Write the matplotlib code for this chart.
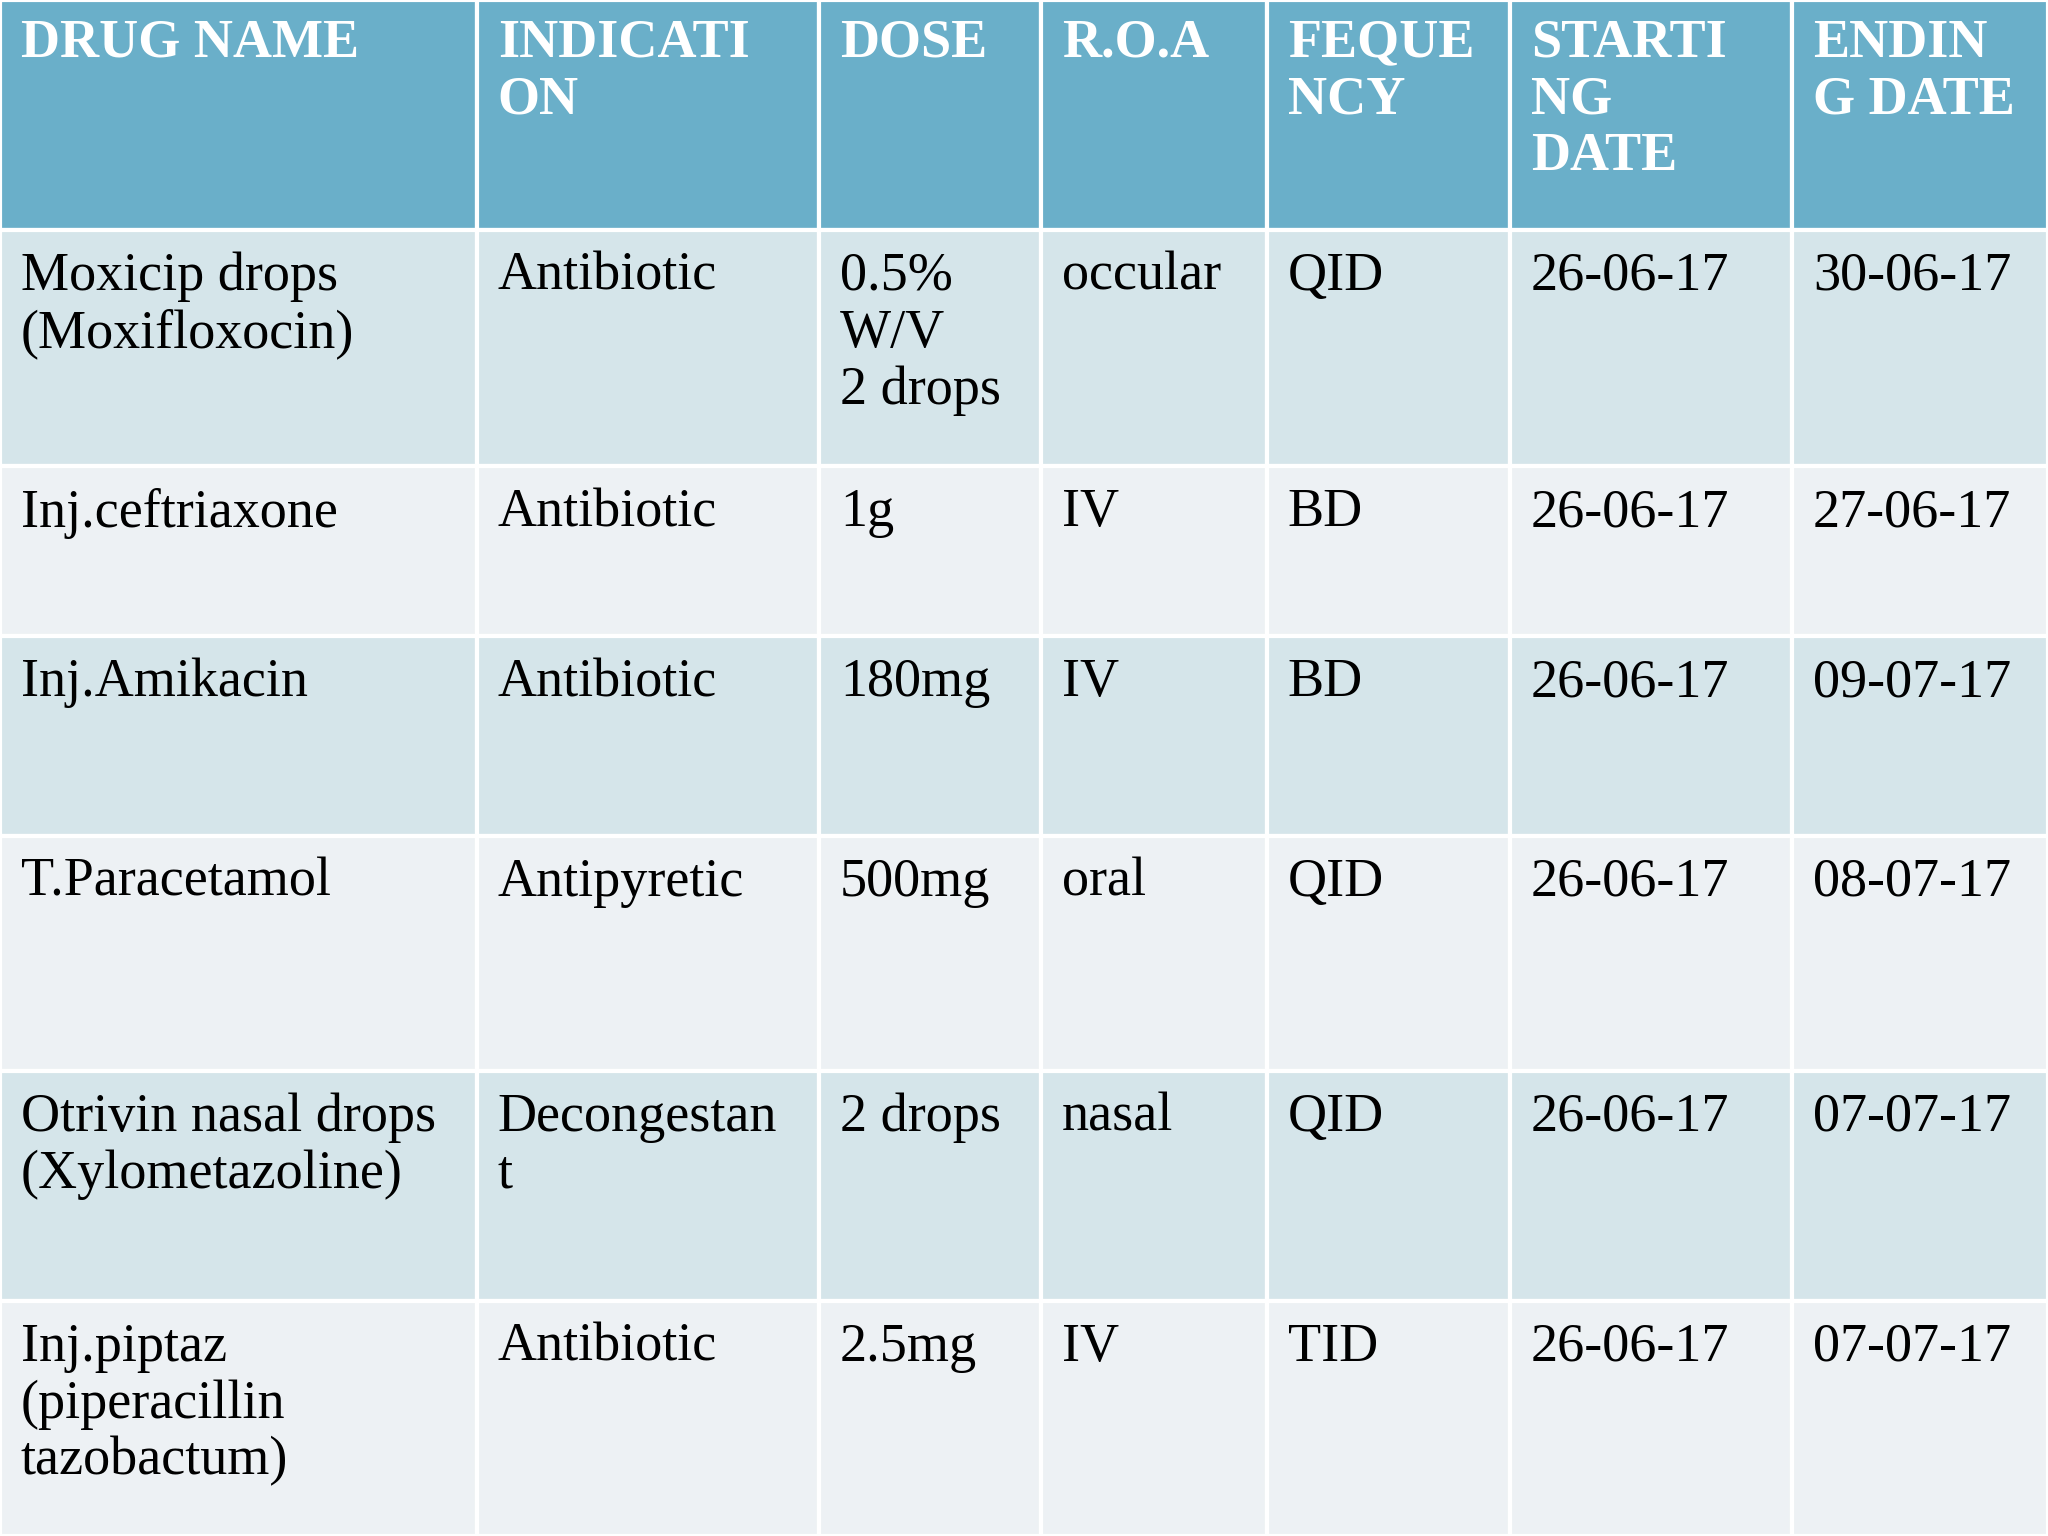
import matplotlib.pyplot as plt
from matplotlib.patches import Rectangle

plt.rcParams['font.family'] = ['Liberation Serif', 'DejaVu Serif']

# table contents
headers = ['DRUG NAME', 'INDICATI\nON', 'DOSE', 'R.O.A', 'FEQUE\nNCY', 'STARTI\nNG\nDATE', 'ENDIN\nG DATE']
drug_names = ['Moxicip drops\n(Moxifloxocin)', 'Inj.ceftriaxone', 'Inj.Amikacin', 'T.Paracetamol',
              'Otrivin nasal drops\n(Xylometazoline)', 'Inj.piptaz\n(piperacillin\ntazobactum)']
indications = ['Antibiotic', 'Antibiotic', 'Antibiotic', 'Antipyretic', 'Decongestan\nt', 'Antibiotic']
doses = ['0.5%\nW/V\n2 drops', '1g', '180mg', '500mg', '2 drops', '2.5mg']
routes = ['occular', 'IV', 'IV', 'oral', 'nasal', 'IV']
frequencies = ['QID', 'BD', 'BD', 'QID', 'QID', 'TID']
start_dates = ['26-06-17'] * 6
end_dates = ['30-06-17', '27-06-17', '09-07-17', '08-07-17', '07-07-17', '07-07-17']

# layout (reference pixel grid)
col_edges = [0, 365, 627, 797, 970, 1156, 1372, 1568]
row_edges = [0, 173, 351, 479, 629, 806, 979, 1156]

fig = plt.figure(figsize=(20.48, 15.36), dpi=100)
ax = fig.add_axes([0, 0, 1, 1])
ax.set_xlim(0, 1568)
ax.set_ylim(1156, 0)
ax.axis('off')

columns = [drug_names, indications, doses, routes, frequencies, start_dates, end_dates]
fs = 39

for r in range(len(row_edges) - 1):
    if r == 0:
        color = '#6AAFC9'
    elif r % 2 == 1:
        color = '#D5E5EA'
    else:
        color = '#EDF1F4'
    for c in range(len(col_edges) - 1):
        x0, x1 = col_edges[c], col_edges[c + 1]
        y0, y1 = row_edges[r], row_edges[r + 1]
        ax.add_patch(Rectangle((x0, y0), x1 - x0, y1 - y0, facecolor=color,
                               edgecolor='white', linewidth=3))
        if r == 0:
            txt = headers[c]
            ax.text(x0 + 16, y0 + 14, txt, fontsize=fs, color='white', fontweight='bold',
                    va='top', ha='left', linespacing=1.17)
        else:
            txt = columns[c][r - 1]
            ax.text(x0 + 16, y0 + 16, txt, fontsize=fs, color='black',
                    va='top', ha='left', linespacing=1.17)

fig.savefig('out.png', dpi=100)
